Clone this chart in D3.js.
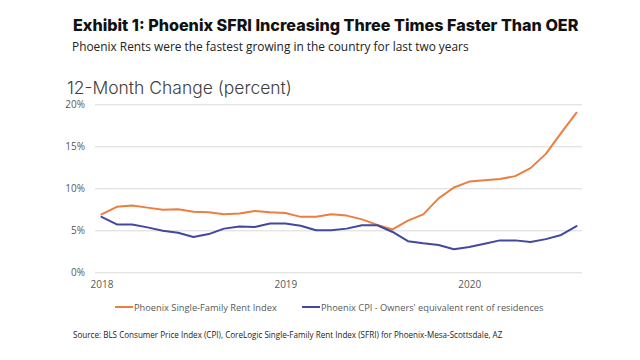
<!DOCTYPE html>
<html>
<head>
<meta charset="utf-8">
<script src="https://cdn.jsdelivr.net/npm/d3@7"></script>
<style>
  html, body { margin: 0; padding: 0; background: #ffffff; }
  svg { display: block; }
</style>
</head>
<body>
<svg id="chart" width="640" height="360"></svg>
<script>
// ---- Data (monthly, Jan 2018 – Aug 2020) ----
const months = d3.timeMonth.range(new Date(2018, 0, 1), new Date(2020, 8, 1)).map(d3.timeFormat("%Y-%m"));
const sfri = [6.9, 7.8, 7.95, 7.7, 7.45, 7.5, 7.2, 7.15, 6.9, 7.0, 7.3, 7.15,
              7.05, 6.6, 6.6, 6.9, 6.75, 6.3, 5.65, 5.1, 6.15, 6.9, 8.8, 10.1,
              10.8, 10.95, 11.1, 11.45, 12.4, 14.1, 16.6, 19.0];
const oer  = [6.6, 5.7, 5.7, 5.35, 4.95, 4.7, 4.2, 4.55, 5.2, 5.45, 5.4, 5.8,
              5.8, 5.55, 5.0, 5.0, 5.2, 5.6, 5.6, 4.8, 3.7, 3.45, 3.25, 2.75,
              3.0, 3.4, 3.8, 3.8, 3.6, 3.95, 4.45, 5.5];
const seriesNames = ["Phoenix Single-Family Rent Index", "Phoenix CPI - Owners' equivalent rent of residences"];
const yTicks = [0, 5, 10, 15, 20];
const yearTicks = ["2018-01", "2019-01", "2020-01"];
const yearLabels = ["2018", "2019", "2020"];

const svg = d3.select("#chart");
const gridLeft = 95, gridRight = 582;

const x = d3.scalePoint().domain(months).range([101.5, 576.5]);
const y = d3.scaleLinear().domain([0, 20]).range([272.3, 104.3]);

// helper: fit a text to a target width by adjusting font-size (no glyph stretching)
function fitText(sel, target, maxSize) {
  const len = sel.node().getComputedTextLength();
  const size = Math.min(maxSize, maxSize * target / len);
  sel.attr("font-size", size);
}

// Titles
const title = svg.append("text").attr("x", 73).attr("y", 31)
  .attr("font-family", "Inter, 'Open Sans', sans-serif").attr("font-weight", 800)
  .attr("font-size", 19).attr("fill", "#111")
  .text("Exhibit 1: Phoenix SFRI Increasing Three Times Faster Than OER");
fitText(title, 506, 19);
const sub = svg.append("text").attr("x", 72).attr("y", 51)
  .attr("font-family", "'Open Sans', 'Noto Sans', sans-serif").attr("font-weight", 400)
  .attr("font-size", 13.5).attr("fill", "#222")
  .text("Phoenix Rents were the fastest growing in the country for last two years");
fitText(sub, 397, 13.5);
const ytitle = svg.append("text").attr("x", 67).attr("y", 94)
  .attr("font-family", "Inter, 'Open Sans', sans-serif").attr("font-weight", 300)
  .attr("font-size", 18).attr("fill", "#404040")
  .text("12-Month Change (percent)");
fitText(ytitle, 225, 18);

// Y axis / gridlines
const yAxis = svg.append("g").attr("transform", `translate(${gridLeft},0)`)
  .call(d3.axisLeft(y).tickValues(yTicks).tickFormat(d => d + "%")
    .tickSize(-(gridRight - gridLeft)).tickPadding(10));
yAxis.select(".domain").remove();
yAxis.selectAll(".tick line").attr("stroke", "#d9d9d9").attr("stroke-width", 1);
yAxis.selectAll(".tick text").attr("font-family", "'Open Sans', 'Noto Sans', sans-serif")
  .attr("font-size", 10).attr("fill", "#595959");

// X axis labels
const xAxis = svg.append("g").attr("transform", `translate(0,275)`)
  .call(d3.axisBottom(x).tickValues(yearTicks).tickFormat((d, i) => yearLabels[i]).tickSize(0).tickPadding(6));
xAxis.select(".domain").remove();
xAxis.selectAll(".tick text").attr("font-family", "'Open Sans', 'Noto Sans', sans-serif")
  .attr("font-size", 10).attr("fill", "#595959");

// Lines
const colors = ["#EC7E3F", "#4148A0"];
const line = d3.line().x((d, i) => x(months[i])).y(d => y(d));
[sfri, oer].forEach((s, k) => {
  svg.append("path").datum(s).attr("d", line)
    .attr("fill", "none").attr("stroke", colors[k]).attr("stroke-width", 2)
    .attr("stroke-linejoin", "round").attr("stroke-linecap", "round");
});

// Legend
const legendY = 307;
const legendItems = [
  { x0: 115, x1: 133, tx: 134, tl: 143 },
  { x0: 302, x1: 320, tx: 321, tl: 223 }
];
legendItems.forEach((it, k) => {
  svg.append("line").attr("x1", it.x0).attr("x2", it.x1).attr("y1", legendY).attr("y2", legendY)
    .attr("stroke", colors[k]).attr("stroke-width", 2);
  const t = svg.append("text").attr("x", it.tx).attr("y", legendY + 4)
    .attr("font-family", "'Open Sans', 'Noto Sans', sans-serif").attr("font-size", 10.5)
    .attr("fill", "#595959")
    .text(seriesNames[k]);
  fitText(t, it.tl, 10.5);
});

// Source
const src = svg.append("text").attr("x", 73).attr("y", 338)
  .attr("font-family", "'Open Sans', 'Noto Sans', sans-serif").attr("font-size", 8.5)
  .attr("fill", "#222")
  .text("Source: BLS Consumer Price Index (CPI), CoreLogic Single-Family Rent Index (SFRI) for Phoenix-Mesa-Scottsdale, AZ");
fitText(src, 430, 8.5);
</script>
</body>
</html>
